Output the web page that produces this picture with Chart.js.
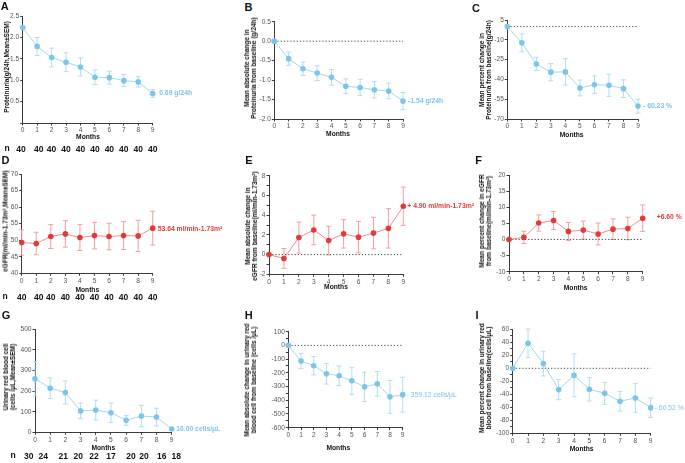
<!DOCTYPE html>
<html>
<head>
<meta charset="utf-8">
<title>Proteinuria, eGFR and urinary RBC over 9 months</title>
<script src="https://cdn.jsdelivr.net/npm/chart.js@4.4.1/dist/chart.umd.min.js"></script>
<style>
  html, body { margin: 0; padding: 0; background: #fff; }
  body { position: relative; width: 685px; height: 463px; overflow: hidden;
         font-family: "Liberation Sans", Arial, sans-serif; color: #111; }
  canvas { position: absolute; }
  .lbl { position: absolute; white-space: pre; transform: translate(-50%, -50%); line-height: 1; }
  .letter { font-size: 11px; font-weight: bold; }
  .ytitle { font-size: 6.5px; font-weight: bold; text-align: center; line-height: 7px;
            transform: translate(-50%, -50%) rotate(-90deg); }
  .xtitle { font-size: 6.7px; font-weight: bold; }
  .ncount { font-size: 8.5px; font-weight: bold; }
</style>
</head>
<body>
<script>
// ── Data ─────────────────────────────────────────────────────────────────
const months = [0, 1, 2, 3, 4, 5, 6, 7, 8, 9];

// A. Proteinuria (g/24h)
const protMean = [2.23, 1.79, 1.53, 1.42, 1.31, 1.07, 1.06, 0.99, 0.96, 0.69];
const protSem  = [0, 0.21, 0.22, 0.22, 0.21, 0.17, 0.15, 0.14, 0.12, 0.09];
// B. Absolute change in proteinuria
const protAbsMean = [0, -0.45, -0.71, -0.82, -0.93, -1.16, -1.19, -1.25, -1.28, -1.54];
const protAbsSem  = [0, 0.17, 0.17, 0.19, 0.2, 0.19, 0.21, 0.21, 0.2, 0.22];
// C. Percent change in proteinuria
const protPctMean = [0, -12.3, -28.3, -34.5, -34.3, -46.5, -44, -44.5, -47, -60.23];
const protPctSem  = [0, 6.75, 5, 6.5, 10, 6, 6.6, 8.4, 6.7, 5.25];
// D. eGFR
const egfrMean = [49.3, 49.0, 51.1, 51.9, 50.8, 51.4, 51.1, 51.4, 51.3, 53.64];
const egfrSem  = [3.8, 3.4, 3.6, 4, 3.9, 4, 4, 4.2, 4.7, 5.1];
// E. Absolute change in eGFR
const egfrAbsMean = [0, -0.39, 1.73, 2.5, 1.42, 2.1, 1.77, 2.18, 2.66, 4.90];
const egfrAbsSem  = [0, 1.0, 1.57, 1.5, 1.45, 1.44, 1.6, 1.6, 2.0, 1.94];
// F. Percent change in eGFR
const egfrPctMean = [0, 0.65, 5.1, 5.9, 2.5, 2.9, 1.7, 3.2, 3.4, 6.60];
const egfrPctSem  = [0, 1.9, 2.5, 2.8, 2.8, 2.8, 3.4, 3.2, 3.5, 4.1];
// G. Urinary red blood cells
const rbcMean = [260, 214, 193, 104, 108, 95, 58, 79, 74, 16];
const rbcSem  = [83, 50, 56, 38, 48, 47, 24, 52, 43, 0];
// H. Absolute change in urinary RBC
const rbcAbsMean = [0, -114, -148, -207, -221, -258, -302, -280, -375, -359.12];
const rbcAbsSem  = [0, 56, 67, 75, 71, 99, 107, 90, 120, 127];
// I. Percent change in urinary RBC
const rbcPctMean = [0, 38.5, 7.2, -32.8, -10.8, -32.3, -38.5, -50.8, -45.6, -60.52];
const rbcPctSem  = [0, 22, 19, 15.5, 33, 18, 17, 15, 22, 15];

// patients per visit
const nProt = [40, 40, 40, 40, 40, 40, 40, 40, 40, 40];
const nEgfr = [40, 40, 40, 40, 40, 40, 40, 40, 40, 40];
const nRbc  = [30, 24, 21, 20, 22, 17, 20, 20, 16, 18];

// ── Styles ───────────────────────────────────────────────────────────────
Chart.defaults.font.family = "'Liberation Sans', Arial, sans-serif";
Chart.defaults.color = "#555";
const AXIS = "#3a3a3a";
const BLUE = { line: "#a6d6ef", dot: "#7cc5ea", err: "#b3ddf1", text: "#7cc5ea" };
const RED  = { line: "#ec8f8f", dot: "#e2393b", err: "#eea0a0", text: "#e2393b" };

const oneDec = v => v.toFixed(1);
const panels = [
  { letter: "A", at: [4.7, 6.3], mean: protMean, sem: protSem, theme: BLUE, zero: false,
    box: { L: 22.7, R: 152.7, T: 16, B: 123 },
    y: { min: 0, max: 2.5, step: 0.5, fmt: v => (v === 0 ? "" : oneDec(v)) },
    end: "0.69 g/24h", endDx: 6.5, endDy: 0,
    title: "Proteinuria(g/24h,Mean±SEM)", titleAt: [5.5, 67], monthsAt: [88, 137.3],
    n: nProt, nY: 149, nAt: 7, nDx: [-1.7, 1.5, 0, 0, 0, 0, 0, 0, 0, 0] },
  { letter: "B", at: [248.5, 7], mean: protAbsMean, sem: protAbsSem, theme: BLUE, zero: true,
    box: { L: 274.3, R: 403, T: 21.7, B: 119 },
    y: { min: -2, max: 0.5, step: 0.5, fmt: oneDec },
    end: "-1.54 g/24h", endDx: 5, endDy: 0,
    title: "Mean absolute change in\nProteinuria from baseline (g/24h)", titleAt: [250, 68], monthsAt: [338, 134] },
  { letter: "C", at: [476, 7.7], mean: protPctMean, sem: protPctSem, theme: BLUE, zero: true,
    box: { L: 507.3, R: 638, T: 20, B: 119 },
    y: { min: -70, max: 5, step: 15, fmt: v => v },
    end: "- 60.23 %", endDx: 5, endDy: 0,
    title: "Mean percent change in\nProteinuria from baseline(g/24h)", titleAt: [484.5, 70], monthsAt: [571.7, 135] },
  { letter: "D", at: [5.5, 160], mean: egfrMean, sem: egfrSem, theme: RED, zero: false,
    box: { L: 21.7, R: 152.7, T: 174, B: 273.3 },
    y: { min: 40, max: 70, step: 5, fmt: v => v },
    end: "53.64 ml/min-1.73m²", endDx: 5, endDy: 1,
    title: "eGFR(ml/min-1.73m²,Mean±SEM)", titleAt: [5.3, 221], monthsAt: [87.3, 289.5],
    n: nEgfr, nY: 297, nAt: 5, nDx: [0, 2.5, 0, 0, 0, 0, 0, 0, 0, 0] },
  { letter: "E", at: [249, 160], mean: egfrAbsMean, sem: egfrAbsSem, theme: RED, zero: true,
    box: { L: 269, R: 403.3, T: 175.7, B: 274.3 },
    y: { min: -2, max: 8, step: 1, fmt: v => (v % 2 === 0 ? v : "") },
    end: "+ 4.90 ml/min-1.73m²", endDx: 4, endDy: 0,
    title: "Mean absolute change in\neGFR from baseline(ml/min-1.73m²)", titleAt: [250.5, 226], monthsAt: [336, 286.7] },
  { letter: "F", at: [478.7, 160.3], mean: egfrPctMean, sem: egfrPctSem, theme: RED, zero: true,
    box: { L: 509, R: 642.7, T: 175, B: 271.7 },
    y: { min: -10, max: 20, step: 5, fmt: v => v },
    end: "+6.60 %", endDx: 14, endDy: -1.5,
    title: "Mean percent change in eGFR\nfrom baseline(ml/min-1.73m²)", titleAt: [485, 221], monthsAt: [575.7, 288.3] },
  { letter: "G", at: [6, 315], mean: rbcMean, sem: rbcSem, theme: BLUE, zero: false,
    box: { L: 35, R: 171.7, T: 329.3, B: 432.3 },
    y: { min: 0, max: 500, step: 100, fmt: v => v },
    end: "16.00 cells/μL", endDx: 4.5, endDy: 0.5,
    title: "Urinary red blood cell\n(cells /μL,Mean±SEM)", titleAt: [9, 377], monthsAt: [103.3, 448],
    n: nRbc, nY: 456, nAt: 13, nDx: [-6.3, -6.9, -2.1, -2.3, -1.7, 0.1, 4.9, 2.7, 5.2, 4.6] },
  { letter: "H", at: [248.7, 314.7], mean: rbcAbsMean, sem: rbcAbsSem, theme: BLUE, zero: true,
    box: { L: 288.3, R: 402.7, T: 331.7, B: 427.7 },
    y: { min: -600, max: 100, step: 50, fmt: v => (v % 100 === 0 ? v : "") },
    end: "- 359.12 cells/μL", endDx: 4, endDy: 0, endWeight: "normal",
    title: "Mean absolute change in urinary red\nblood cell from baseline (cells /μL)", titleAt: [249.5, 380], monthsAt: [338.3, 448.3] },
  { letter: "I", at: [477, 314.5], mean: rbcPctMean, sem: rbcPctSem, theme: BLUE, zero: true,
    box: { L: 512.7, R: 650.7, T: 329.3, B: 433.3 },
    y: { min: -100, max: 60, step: 10, fmt: v => (v % 20 === 0 ? v : "") },
    end: "- 60.52 %", endDx: 4, endDy: 0, endWeight: "normal",
    title: "Mean percent change in urinary red\nblood cell from baseline(cells/μL)", titleAt: [485, 378], monthsAt: [581.7, 449] },
];

// ── Helpers ──────────────────────────────────────────────────────────────
function placeText(text, x, y, cls) {
  const d = document.createElement("div");
  d.className = "lbl " + cls;
  d.textContent = text;
  d.style.left = x + "px";
  d.style.top = y + "px";
  document.body.appendChild(d);
}

// SEM whiskers, drawn under the markers
function errorBars(p) {
  return {
    id: "errbars",
    beforeDatasetsDraw(chart) {
      const { ctx, scales: { x, y } } = chart;
      ctx.save();
      ctx.strokeStyle = p.theme.err;
      ctx.lineWidth = 1;
      months.forEach((m, i) => {
        const s = p.sem[i];
        if (!s) return;
        const px = x.getPixelForValue(m);
        const top = y.getPixelForValue(p.mean[i] + s);
        const bot = y.getPixelForValue(p.mean[i] - s);
        ctx.beginPath();
        ctx.moveTo(px, top); ctx.lineTo(px, bot);
        ctx.moveTo(px - 2.5, top); ctx.lineTo(px + 2.5, top);
        ctx.moveTo(px - 2.5, bot); ctx.lineTo(px + 2.5, bot);
        ctx.stroke();
      });
      ctx.restore();
    },
  };
}

// value tag beside the month-9 point
function endLabel(p) {
  return {
    id: "endlabel",
    afterDatasetsDraw(chart) {
      const { ctx, scales: { x, y } } = chart;
      const last = months.length - 1;
      ctx.save();
      ctx.fillStyle = p.theme.text;
      ctx.font = (p.endWeight || "bold") + " 6.8px 'Liberation Sans', Arial, sans-serif";
      ctx.textAlign = "left";
      ctx.textBaseline = "middle";
      ctx.fillText(p.end, x.getPixelForValue(months[last]) + p.endDx,
                   y.getPixelForValue(p.mean[last]) + p.endDy);
      ctx.restore();
    },
  };
}

function makePanel(p) {
  const b = p.box;
  const cl = Math.floor(b.L) - 30, ct = Math.floor(b.T) - 8;
  const yW = b.L - cl, padTop = b.T - ct;
  const cw = Math.ceil(b.R - cl + 82), ch = Math.ceil(b.B - ct + 16);
  const padRight = cw - (b.R - cl), xH = ch - (b.B - ct);

  const cv = document.createElement("canvas");
  cv.width = cw; cv.height = ch;
  cv.style.left = cl + "px"; cv.style.top = ct + "px";
  cv.style.width = cw + "px"; cv.style.height = ch + "px";
  document.body.appendChild(cv);

  const datasets = [{
    data: months.map((m, i) => ({ x: m, y: p.mean[i] })),
    borderColor: p.theme.line, borderWidth: 1, tension: 0,
    pointRadius: 2.8, pointBackgroundColor: p.theme.dot, pointBorderWidth: 0,
    clip: false,
  }];
  if (p.zero) {
    datasets.push({
      data: [{ x: months[0], y: 0 }, { x: months[months.length - 1], y: 0 }],
      borderColor: "#444", borderWidth: 1, borderDash: [1.2, 2], pointRadius: 0, clip: false,
    });
  }

  const axisGrid = { drawOnChartArea: false, drawTicks: true, tickLength: 2.5, color: AXIS, lineWidth: 1 };
  const chart = new Chart(cv, {
    type: "line",
    data: { datasets },
    options: {
      responsive: false, animation: false, devicePixelRatio: 1,
      layout: { padding: { left: 0, top: padTop, right: padRight, bottom: 0 } },
      plugins: { legend: { display: false }, tooltip: { enabled: false } },
      scales: {
        x: {
          type: "linear", min: 0, max: 9,
          afterFit: s => { s.height = xH; },
          ticks: { stepSize: 1, font: { size: 6.6 }, color: "#555", padding: 1, maxRotation: 0 },
          grid: axisGrid,
          border: { color: AXIS, width: 1 },
        },
        y: {
          min: p.y.min, max: p.y.max,
          afterFit: s => { s.width = yW; },
          ticks: { stepSize: p.y.step, callback: p.y.fmt, autoSkip: false,
                   font: { size: 6.6 }, color: "#555", padding: 1 },
          grid: axisGrid,
          border: { color: AXIS, width: 1 },
        },
      },
    },
    plugins: [errorBars(p), endLabel(p)],
  });

  // texts around the plot
  placeText(p.letter, p.at[0], p.at[1], "letter");
  placeText(p.title, p.titleAt[0], p.titleAt[1], "ytitle");
  placeText("Months", p.monthsAt[0], p.monthsAt[1], "xtitle");
  if (p.n) {
    placeText("n", p.nAt, p.nY - 1, "ncount");
    p.n.forEach((v, i) => {
      placeText(String(v), cl + chart.scales.x.getPixelForValue(months[i]) + p.nDx[i], p.nY, "ncount");
    });
  }
}

panels.forEach(makePanel);
</script>
</body>
</html>
